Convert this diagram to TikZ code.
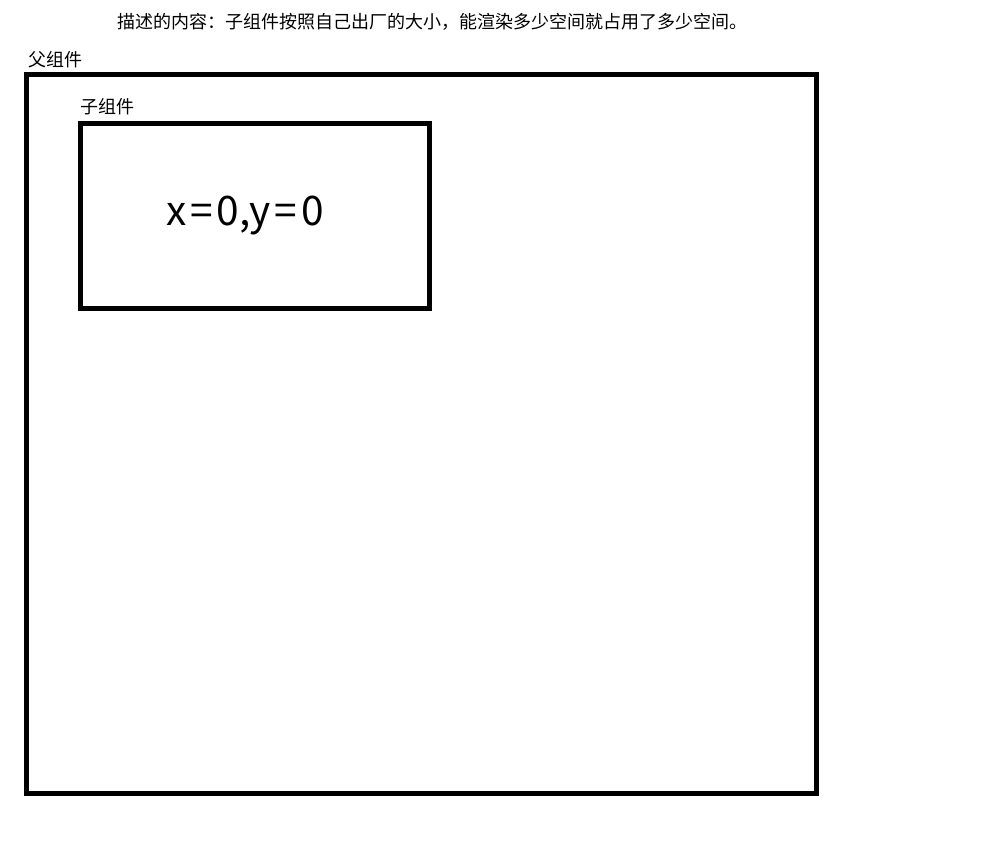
\documentclass[tikz,border=0pt]{standalone}
\usepackage{fontspec}
\setmainfont{Noto Sans CJK SC}
\begin{document}
\begin{tikzpicture}[x=0.75pt,y=-0.75pt,
    box/.style={draw,line width=3.75pt},
    caption/.style={anchor=west,inner sep=0pt,font=\fontsize{13.5}{16}\selectfont}]
    \useasboundingbox (0,0) rectangle (997,860);
    \node[caption] (title) at (117,22) {描述的内容：子组件按照自己出厂的大小，能渲染多少空间就占用了多少空间。};
    % parent
    \node[caption] (parentname) at (28,59.5) {父组件};
    \draw[box] (26.5,74.5) rectangle (816.5,793.5);
    % child
    \node[caption] (childname) at (80,106.5) {子组件};
    \draw[box] (80.5,123.5) rectangle (429.5,308.5);
    \node[font=\fontsize{30.5}{36}\selectfont] (pos) at (245,215.5) {x\kern2.9pt=\kern2.9pt0,y\kern2.9pt=\kern2.9pt0};
\end{tikzpicture}
\end{document}
